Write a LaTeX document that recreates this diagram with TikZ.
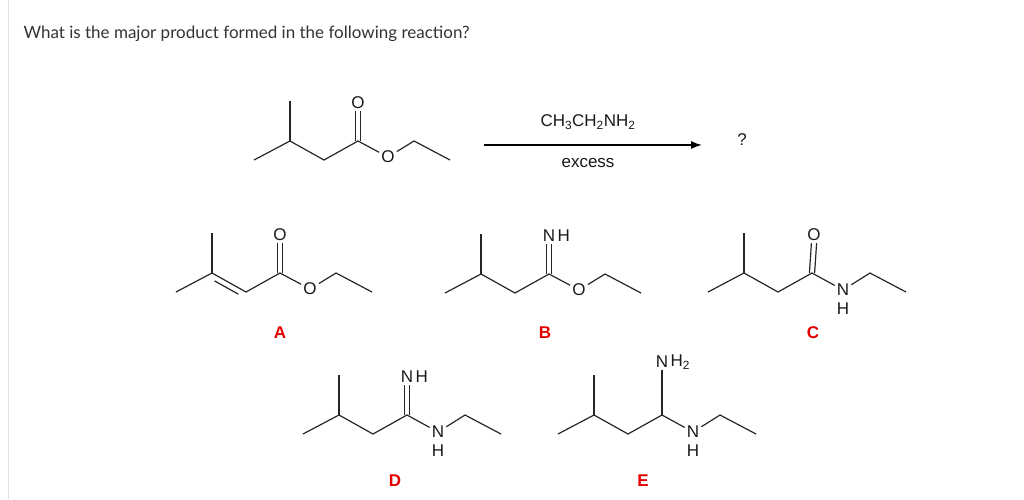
\documentclass[tikz,border=0pt]{standalone}
\usetikzlibrary{arrows.meta,calc}
\usepackage{fontspec}
\setmainfont{Liberation Sans}
\newfontfamily\qfont{Lato}
\begin{document}
\begin{tikzpicture}[x=1pt,y=-1pt,
  bond/.style={line width=1.2pt, black!85},
  atom/.style={font=\fontsize{17}{18}\selectfont, inner sep=2pt, text=black!90},
  lab/.style={font=\fontsize{17}{18}\selectfont\bfseries, text=red!90!black}]
\useasboundingbox (0,0) rectangle (1024,499);
\draw[black!12, line width=1pt] (8,0) -- (8,499);
\node[anchor=west, font=\qfont\fontsize{17}{20}\selectfont, text=black!80] (q) at (20,34) {What is the major product formed in the following reaction?};
% top reactant
\begin{scope}[shift={(254,160)}]
\coordinate (t1) at (0,0); \coordinate (t2) at (36,-19); \coordinate (t3) at (36,-59);
\coordinate (t4) at (70,0); \coordinate (t5) at (104,-19);
\node[atom] (tO) at (104,-57) {O}; \node[atom] (tOe) at (134,-3) {O};
\coordinate (t6) at (160,-19); \coordinate (t7) at (196,0);
\draw[bond] (t1)--(t2)--(t4)--(t5)--(tOe)--(t6)--(t7); \draw[bond] (t2)--(t3);
\draw[bond] ([xshift=-2.6pt]t5) -- ([xshift=-2.6pt]tO.south); \draw[bond] ([xshift=2.6pt]t5) -- ([xshift=2.6pt]tO.south);
\end{scope}
% arrow
\coordinate (ar1) at (484,145); \coordinate (ar2) at (702,145);
\draw[line width=1.4pt, -{Latex[length=11pt,width=8pt]}] (ar1) -- (ar2);
\node[atom] (r1) at (588,122) {CH\textsubscript{3}CH\textsubscript{2}NH\textsubscript{2}};
\node[atom] (r2) at (588,163) {excess};
\node[atom] (qm) at (742,140) {?};
% A
\begin{scope}[shift={(176,292)}]
\coordinate (a1) at (0,0); \coordinate (a2) at (36,-19); \coordinate (a3) at (36,-59);
\coordinate (a4) at (70,0); \coordinate (a5) at (104,-19);
\node[atom] (aO) at (104,-57) {O}; \node[atom] (aOe) at (134,-3) {O};
\coordinate (a6) at (160,-19); \coordinate (a7) at (196,0);
\draw[bond] (a1)--(a2)--(a4)--(a5)--(aOe)--(a6)--(a7); \draw[bond] (a2)--(a3);
\draw[bond] ($(a2)!0.15!(a4)+(-2.6,5)$) -- ($(a2)!0.85!(a4)+(-2.6,5)$);
\draw[bond] ([xshift=-2.6pt]a5) -- ([xshift=-2.6pt]aO.south); \draw[bond] ([xshift=2.6pt]a5) -- ([xshift=2.6pt]aO.south);
\node[lab] (LA) at (104,41) {A};
\end{scope}
% B
\begin{scope}[shift={(445,293)}]
\coordinate (b1) at (0,0); \coordinate (b2) at (36,-19); \coordinate (b3) at (36,-59);
\coordinate (b4) at (70,0); \coordinate (b5) at (104,-19);
\node[atom] (bN) at (104,-57) {N}; \node[atom, anchor=west, inner sep=0pt] (bH) at (bN.east) {H};
\node[atom] (bOe) at (134,-3) {O};
\coordinate (b6) at (160,-19); \coordinate (b7) at (196,0);
\draw[bond] (b1)--(b2)--(b4)--(b5)--(bOe)--(b6)--(b7); \draw[bond] (b2)--(b3);
\draw[bond] ([xshift=-2.6pt]b5) -- ([xshift=-2.6pt]bN.south); \draw[bond] ([xshift=2.6pt]b5) -- ([xshift=2.6pt]bN.south);
\node[lab] (LB) at (100,40) {B};
\end{scope}
% C
\begin{scope}[shift={(708,292)}]
\coordinate (c1) at (0,0); \coordinate (c2) at (36,-19); \coordinate (c3) at (36,-59);
\coordinate (c4) at (70,0); \coordinate (c5) at (104,-19);
\node[atom] (cO) at (106,-57) {O}; \node[atom] (cN) at (135,-2) {N};
\node[atom] (cH) at (135,17) {H};
\coordinate (c6) at (162,-19); \coordinate (c7) at (198,0);
\draw[bond] (c1)--(c2)--(c4)--(c5)--(cN)--(c6)--(c7); \draw[bond] (c2)--(c3);
\draw[bond] ([xshift=-2.6pt]c5) -- ([xshift=-2.6pt]cO.south); \draw[bond] ([xshift=2.6pt]c5) -- ([xshift=2.6pt]cO.south);
\node[lab] (LC) at (105,41) {C};
\end{scope}
% D
\begin{scope}[shift={(303,434)}]
\coordinate (d1) at (0,0); \coordinate (d2) at (36,-19); \coordinate (d3) at (36,-59);
\coordinate (d4) at (70,0); \coordinate (d5) at (104,-19);
\node[atom] (dN) at (104,-57) {N}; \node[atom, anchor=west, inner sep=0pt] (dH) at (dN.east) {H};
\node[atom] (dN2) at (135,-2) {N}; \node[atom] (dH2) at (135,17) {H};
\coordinate (d6) at (162,-19); \coordinate (d7) at (198,0);
\draw[bond] (d1)--(d2)--(d4)--(d5)--(dN2)--(d6)--(d7); \draw[bond] (d2)--(d3);
\draw[bond] ([xshift=-2.6pt]d5) -- ([xshift=-2.6pt]dN.south); \draw[bond] ([xshift=2.6pt]d5) -- ([xshift=2.6pt]dN.south);
\node[lab] (LD) at (92,47) {D};
\end{scope}
% E
\begin{scope}[shift={(558,434)}]
\coordinate (e1) at (0,0); \coordinate (e2) at (36,-19); \coordinate (e3) at (36,-59);
\coordinate (e4) at (70,0); \coordinate (e5) at (104,-19);
\node[atom] (eN) at (104,-72) {N}; \node[atom, anchor=west, inner sep=0pt] (eH) at (eN.east) {H\textsubscript{2}};
\node[atom] (eN2) at (135,-2) {N}; \node[atom] (eH2) at (135,17) {H};
\coordinate (e6) at (162,-19); \coordinate (e7) at (198,0);
\draw[bond] (e1)--(e2)--(e4)--(e5)--(eN2)--(e6)--(e7); \draw[bond] (e2)--(e3);
\draw[bond] (e5) -- (eN.south);
\node[lab] (LE) at (85,47) {E};
\end{scope}
\end{tikzpicture}
\end{document}
